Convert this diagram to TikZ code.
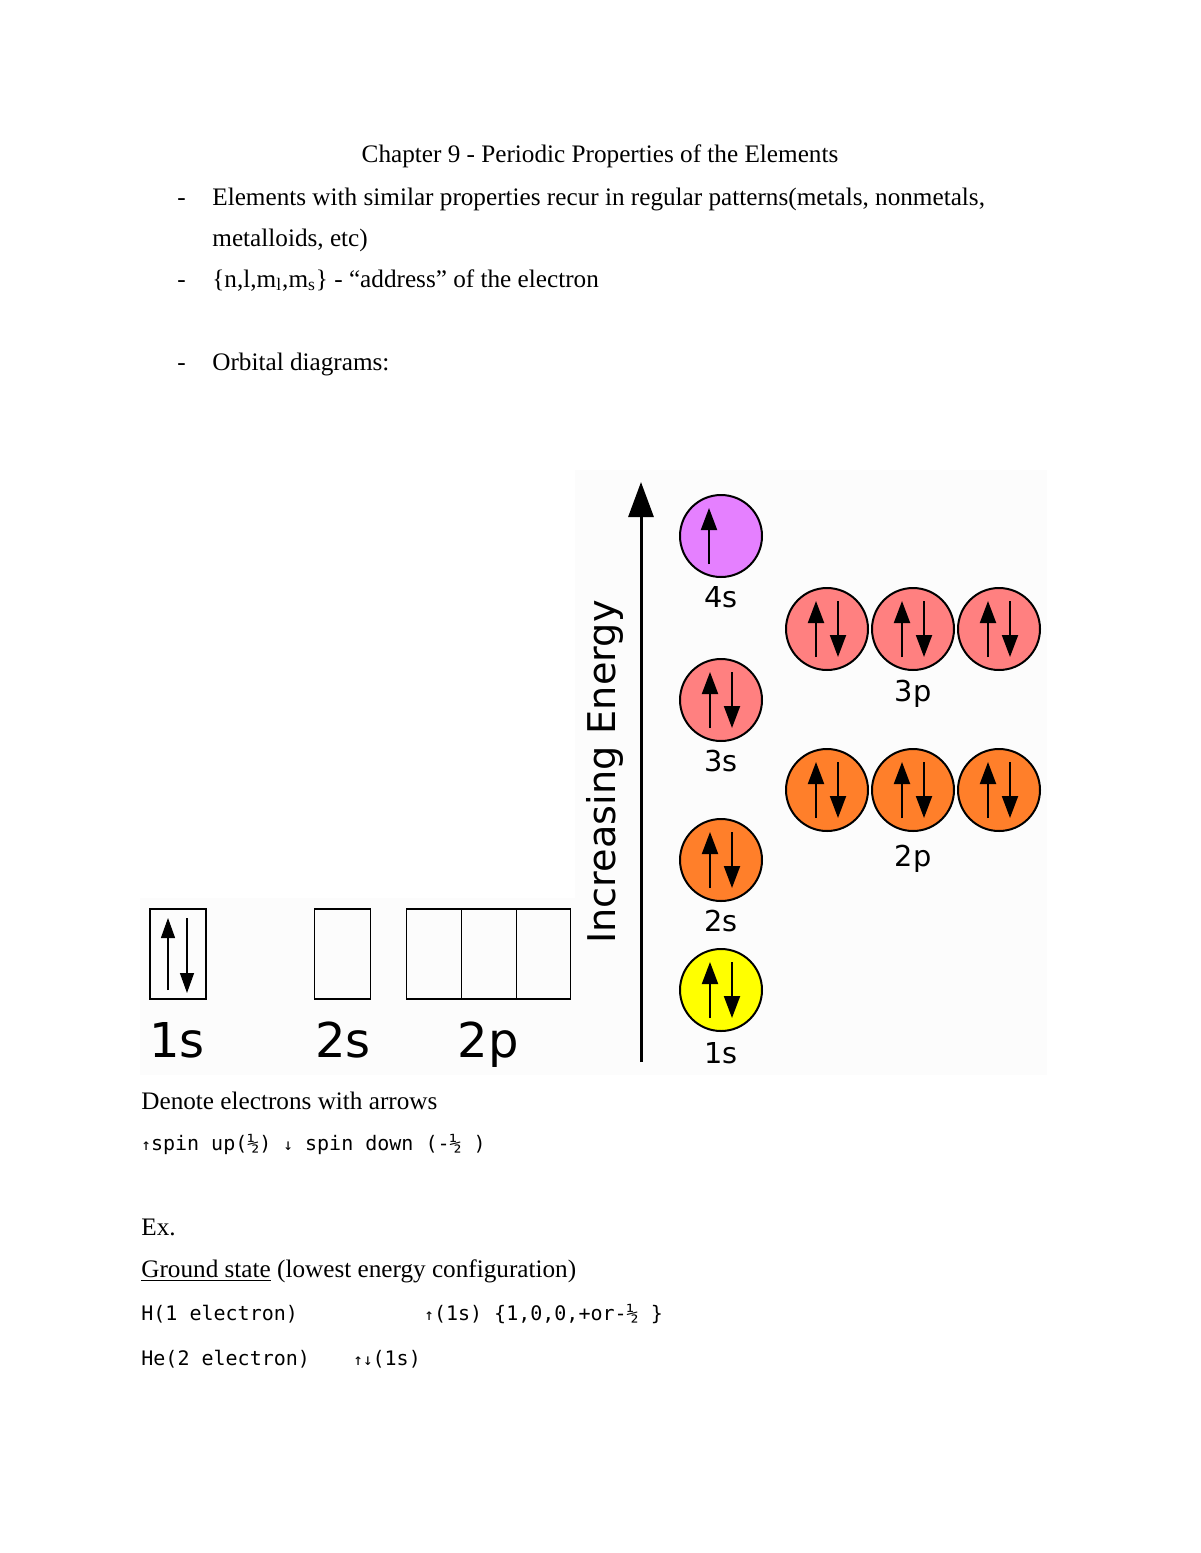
\documentclass[tikz,border=0pt]{standalone}
\usepackage{fontspec}
\setmainfont{Liberation Serif}
\newfontfamily\diafont{DejaVu Sans}
\newfontfamily\termfont{DejaVu Sans Mono}
\usetikzlibrary{
  calc,        % offsets from the orbital nodes
  arrows.meta, % electron arrow tips
  positioning
}

\definecolor{orbviolet}{HTML}{E580FF}
\definecolor{orbsalmon}{HTML}{FF8080}
\definecolor{orborange}{HTML}{FF7F2A}
\definecolor{orbyellow}{HTML}{FFFF00}

\tikzset{
  bodytext/.style={anchor=base west, inner sep=0pt, font=\fontsize{12.6}{15}\selectfont},
  termtext/.style={anchor=base west, inner sep=0pt, font=\termfont\fontsize{10}{12}\selectfont},
  orb/.style={circle, draw, line width=1pt, minimum size=41pt, inner sep=0pt},
  orbbox/.style={rectangle, draw, line width=0.8pt, minimum width=28pt, minimum height=45pt, inner sep=0pt, outer sep=0pt},
  elec/.style={line width=1pt, -{Triangle[width=8pt,length=11pt]}},
  boxelec/.style={line width=0.65pt, -{Triangle[width=7pt,length=10pt]}},
  orblabel/.style={font=\diafont\fontsize{14.4}{16}\selectfont, inner sep=0pt, anchor=base},
  boxlabel/.style={font=\diafont\fontsize{24}{28}\selectfont, inner sep=0pt, anchor=base}
}
\newcommand{\spinarr}[1]{{\fontsize{8}{8}\selectfont #1}}

\begin{document}
\begin{tikzpicture}[x=0.5pt, y=-0.5pt]
    \useasboundingbox[fill=white] (0,0) rectangle (1200,1553);

    % Heading and notes
    \node[bodytext, anchor=base] (title) at (600,162) {Chapter 9 - Periodic Properties of the Elements};
    \node[bodytext] (dash1) at (177,205) {-};
    \node[bodytext] (note1) at (212,205) {Elements with similar properties recur in regular patterns(metals, nonmetals,};
    \node[bodytext] (note1b) at (212,246) {metalloids, etc)};
    \node[bodytext] (dash2) at (177,287) {-};
    \node[bodytext] (note2) at (212,287) {\{n,l,m\textsubscript{l},m\textsubscript{s}\} - “address” of the electron};
    \node[bodytext] (dash3) at (177,370) {-};
    \node[bodytext] (note3) at (212,370) {Orbital diagrams:};

    % Faint backgrounds of the two pictures
    \fill[black!1] (140,898) rectangle (582,1075);
    \fill[black!1] (575,470) rectangle (1047,1075);

    % Box diagram
    \node[orbbox] (b1s) at (178,954) {};
    \node[orbbox] (b2s) at (342.5,954) {};
    \node[orbbox, minimum width=27.5pt] (b2pa) at (434,954) {};
    \node[orbbox, minimum width=27.5pt, right=0pt of b2pa] (b2pb) {};
    \node[orbbox, minimum width=27pt, right=0pt of b2pb] (b2pc) {};
    \draw[boxelec] ($(b1s)+(-10,36)$) -- ($(b1s)+(-10,-36)$);
    \draw[boxelec] ($(b1s)+(9,-36)$) -- ($(b1s)+(9,39)$);
    \node[boxlabel] (l1s) at (177,1057) {1s};
    \node[boxlabel] (l2s) at (343,1057) {2s};
    \node[boxlabel] (l2p) at (488,1057) {2p};

    % Energy axis
    \coordinate (ebot) at (641,1062);
    \coordinate (etop) at (641,482);
    \draw[line width=1.5pt, -{Triangle[width=12.5pt,length=17.5pt]}] (ebot) -- (etop);
    \node[font=\diafont\fontsize{19.1}{22}\selectfont, rotate=90, inner sep=0pt] (elab) at (605,772) {Increasing Energy};

    % Orbitals
    \node[orb, fill=orbviolet] (c4s) at (721,536) {};
    \node[orb, fill=orbsalmon] (c3s) at (721,700) {};
    \node[orb, fill=orborange] (c2s) at (721,860) {};
    \node[orb, fill=orbyellow] (c1s) at (721,990) {};
    \node[orb, fill=orbsalmon] (c3pa) at (827,629) {};
    \node[orb, fill=orbsalmon] (c3pb) at (913,629) {};
    \node[orb, fill=orbsalmon] (c3pc) at (999,629) {};
    \node[orb, fill=orborange] (c2pa) at (827,790) {};
    \node[orb, fill=orborange] (c2pb) at (913,790) {};
    \node[orb, fill=orborange] (c2pc) at (999,790) {};

    \node[orblabel] (t4s) at (721,607) {4s};
    \node[orblabel] (t3s) at (721,771) {3s};
    \node[orblabel] (t2s) at (721,931) {2s};
    \node[orblabel] (t1s) at (721,1063) {1s};
    \node[orblabel] (t3p) at (913,701) {3p};
    \node[orblabel] (t2p) at (913,866) {2p};

    % Electrons
    \draw[elec] ($(c4s)+(-12,28)$) -- ($(c4s)+(-12,-28)$);
    \foreach \o in {c3s,c2s,c1s,c3pa,c3pb,c3pc,c2pa,c2pb,c2pc} {
        \draw[elec] ($(\o)+(-11,28)$) -- ($(\o)+(-11,-28)$);
        \draw[elec] ($(\o)+(11,-28)$) -- ($(\o)+(11,28)$);
    }

    % Notes below
    \node[bodytext] (denote) at (141,1109) {Denote electrons with arrows};
    \node[termtext] (spin) at (141,1150) {\spinarr{↑}spin up(½) \spinarr{↓} spin down (-½ )};
    \node[bodytext] (ex) at (141,1235) {Ex.};
    \node[bodytext] (ground) at (141,1277) {\underline{Ground state} (lowest energy configuration)};
    \node[termtext] (hname) at (141,1320) {H(1 electron)};
    \node[termtext] (hconf) at (424,1320) {\spinarr{↑}(1s) \{1,0,0,+or-½ \}};
    \node[termtext] (hename) at (141,1365) {He(2 electron)};
    \node[termtext] (heconf) at (353,1365) {\spinarr{↑↓}(1s)};
\end{tikzpicture}
\end{document}
